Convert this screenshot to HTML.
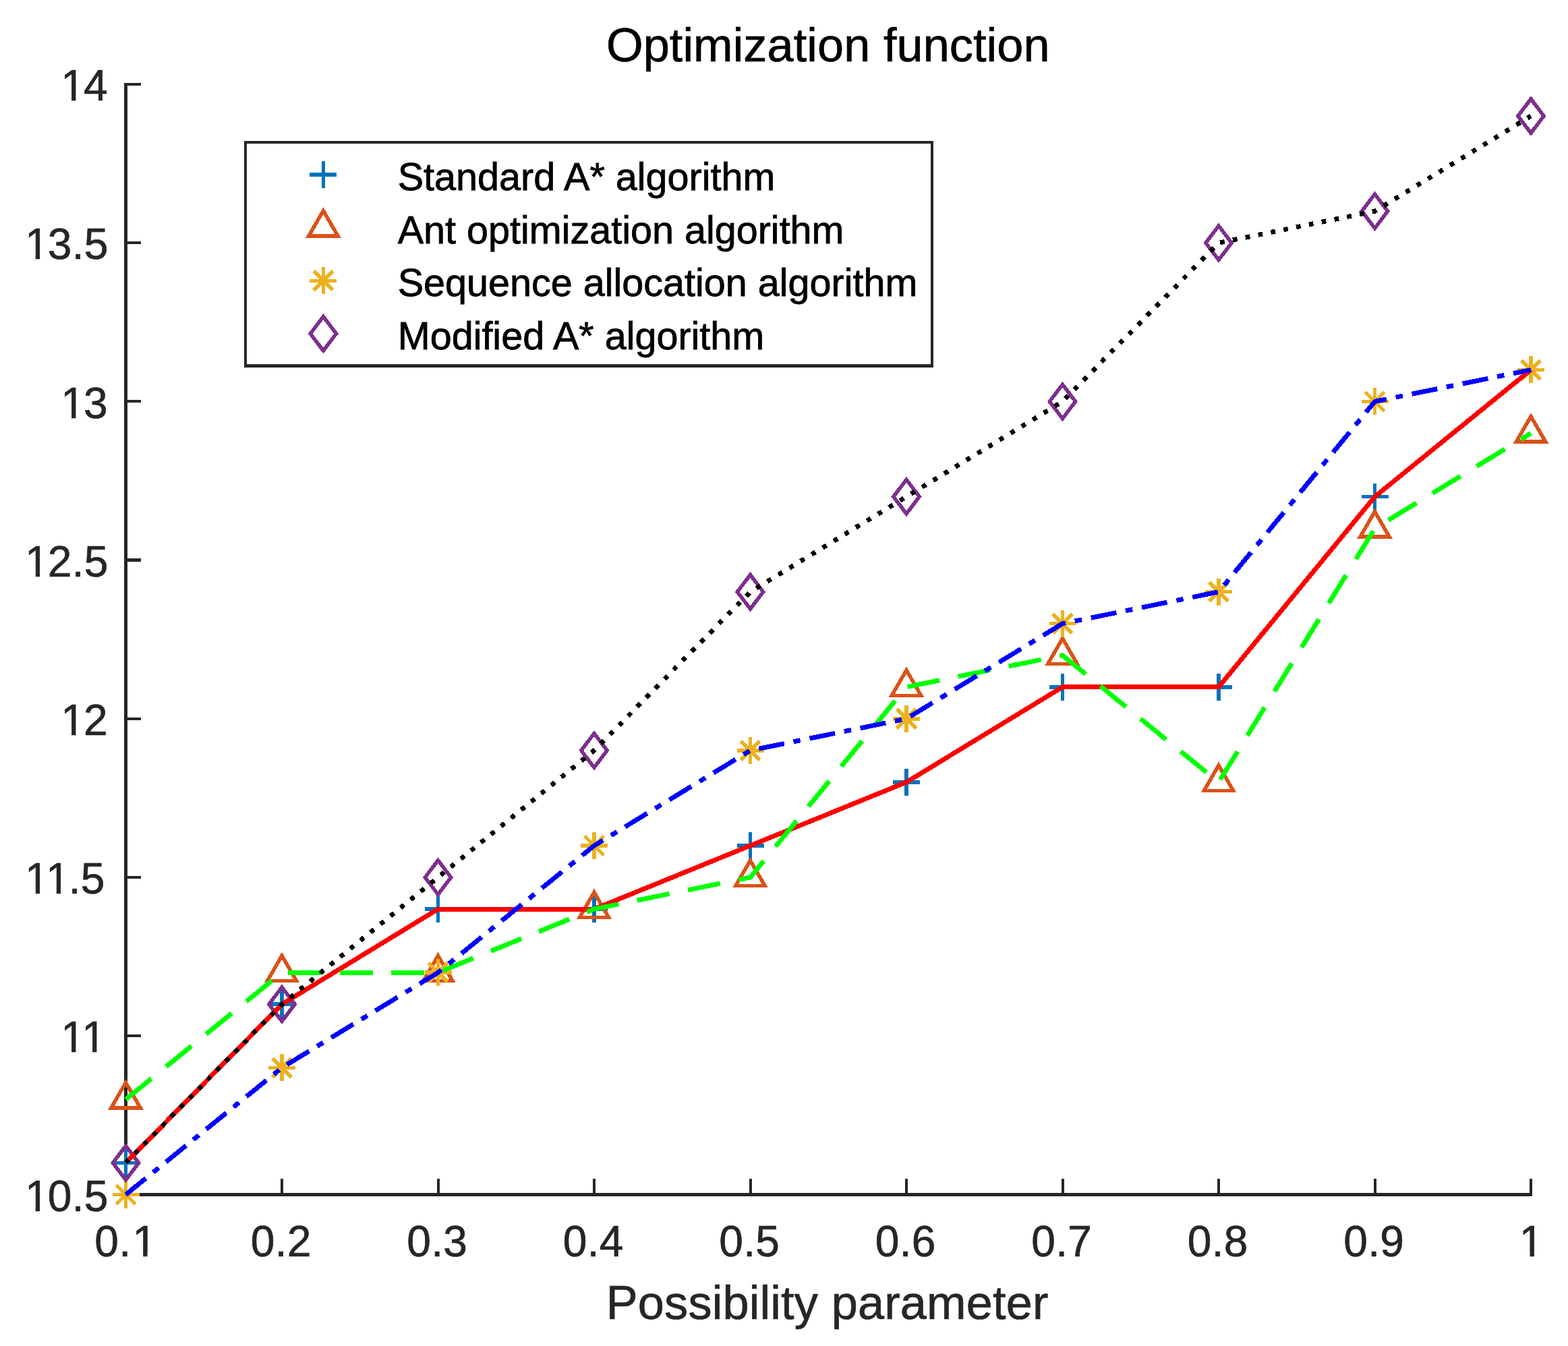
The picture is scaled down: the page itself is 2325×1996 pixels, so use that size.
<!DOCTYPE html>
<html lang="en">
<head>
<meta charset="utf-8">
<title>Optimization function</title>
<style>
html,body{margin:0;padding:0;background:#fff;}
body{width:2325px;height:1996px;overflow:hidden;}
svg{display:block;}
text{font-family:"Liberation Sans",Arial,Helvetica,sans-serif;}
.tk{font-size:64.1px;fill:#262626;stroke:#262626;stroke-width:0.7px;}
.tt{font-size:70.3px;fill:#000;stroke:#000;stroke-width:0.7px;letter-spacing:0.06px;}
.xl{font-size:70.3px;fill:#262626;stroke:#262626;stroke-width:0.7px;letter-spacing:0.155px;}
.lg{font-size:57.6px;fill:#000;stroke:#000;stroke-width:0.8px;letter-spacing:-0.03px;}
</style>
</head>
<body>

<svg width="2325" height="1996" viewBox="0 0 2325 1996">
<rect width="2325" height="1996" fill="#fff"/>
<g id="axes" shape-rendering="crispEdges" fill="#262626">
<rect x="184" y="123" width="5" height="1651"/>
<rect x="184" y="1769" width="2088" height="5"/>
<rect x="185" y="1748" width="4" height="24"/>
<rect x="416" y="1748" width="4" height="24"/>
<rect x="648" y="1748" width="4" height="24"/>
<rect x="879" y="1748" width="4" height="24"/>
<rect x="1111" y="1748" width="4" height="24"/>
<rect x="1342" y="1748" width="4" height="24"/>
<rect x="1574" y="1748" width="4" height="24"/>
<rect x="1805" y="1748" width="4" height="24"/>
<rect x="2037" y="1748" width="4" height="24"/>
<rect x="2268" y="1748" width="4" height="24"/>
<rect x="186" y="1770" width="23" height="4"/>
<rect x="186" y="1534" width="23" height="4"/>
<rect x="186" y="1299" width="23" height="4"/>
<rect x="186" y="1064" width="23" height="4"/>
<rect x="186" y="828" width="23" height="5"/>
<rect x="186" y="593" width="23" height="4"/>
<rect x="186" y="358" width="23" height="4"/>
<rect x="186" y="123" width="23" height="4"/>
</g>
<defs><clipPath id="nofeet"><path clip-rule="evenodd" d="M0 0H2325 V1996 H0ZM199 1857h13.17v8.0h-13.17zM218.53 1857h12.47v8.0h-12.47zM2256 1857h12.57v8.0h-12.57zM2274.93 1857h12.07v8.0h-12.07zM40 1790h12.77v8h-12.77zM59.13 1790h11.87v8h-11.87zM93 1554h13.07v8h-13.07zM112.43 1554h12.57v8h-12.57zM124 1554h13.07v8h-13.07zM143.43 1554h12.57v8h-12.57zM40 1319h12.77v8h-12.77zM59.13 1319h11.87v8h-11.87zM71 1319h12.77v8h-12.77zM90.13 1319h11.87v8h-11.87zM93 1084h13.07v8h-13.07zM112.43 1084h12.57v8h-12.57zM40 849h12.77v8h-12.77zM59.13 849h11.87v8h-11.87zM93 614h13.07v8h-13.07zM112.43 614h12.57v8h-12.57zM40 378h12.77v8h-12.77zM59.13 378h11.87v8h-11.87zM93 143h13.07v8h-13.07zM112.43 143h12.57v8h-12.57z"/></clipPath></defs>
<g id="xticks" class="tk" clip-path="url(#nofeet)">
<text x="140.2 176.2 196.4" y="1863.0">0.1</text>
<text x="371.7 407.7 425.7" y="1863.0">0.2</text>
<text x="603.2 639.2 657.2" y="1863.0">0.3</text>
<text x="834.7 870.7 888.7" y="1863.0">0.4</text>
<text x="1066.2 1102.2 1120.2" y="1863.0">0.5</text>
<text x="1297.7 1333.7 1351.7" y="1863.0">0.6</text>
<text x="1529.2 1565.2 1583.2" y="1863.0">0.7</text>
<text x="1760.7 1796.7 1814.7" y="1863.0">0.8</text>
<text x="1992.2 2028.2 2046.2" y="1863.0">0.9</text>
<text x="2252.8" y="1863.0">1</text>
</g>
<g id="yticks" class="tk" clip-path="url(#nofeet)">
<text x="37 70.8 106.8 124.8" y="1796">10.5</text>
<text x="90.3 121.3" y="1560">11</text>
<text x="37 68 101.8 119.8" y="1325">11.5</text>
<text x="90.3 124.1" y="1090">12</text>
<text x="37 70.8 106.8 124.8" y="855">12.5</text>
<text x="90.3 124.1" y="620">13</text>
<text x="37 70.8 106.8 124.8" y="384">13.5</text>
<text x="90.3 124.1" y="149">14</text>
</g>
<text class="tt" text-anchor="middle" x="1227.75" y="91.0">Optimization function</text>
<text class="xl" text-anchor="middle" x="1226.65" y="1955.8">Possibility parameter</text>
<g id="markers" shape-rendering="crispEdges">
<path d="M166.5 1724.46H206.5M186.5 1704.46V1744.46" stroke="#0072BD" stroke-width="5.5" fill="none"/>
<path d="M398 1489.24H438M418 1469.24V1509.24" stroke="#0072BD" stroke-width="5.5" fill="none"/>
<path d="M629.5 1348.11H669.5M649.5 1328.11V1368.11" stroke="#0072BD" stroke-width="5.5" fill="none"/>
<path d="M861 1348.11H901M881 1328.11V1368.11" stroke="#0072BD" stroke-width="5.5" fill="none"/>
<path d="M1092.5 1254.03H1132.5M1112.5 1234.03V1274.03" stroke="#0072BD" stroke-width="5.5" fill="none"/>
<path d="M1324 1159.94H1364M1344 1139.94V1179.94" stroke="#0072BD" stroke-width="5.5" fill="none"/>
<path d="M1555.5 1018.81H1595.5M1575.5 998.81V1038.81" stroke="#0072BD" stroke-width="5.5" fill="none"/>
<path d="M1787 1018.81H1827M1807 998.81V1038.81" stroke="#0072BD" stroke-width="5.5" fill="none"/>
<path d="M2018.5 736.56H2058.5M2038.5 716.56V756.56" stroke="#0072BD" stroke-width="5.5" fill="none"/>
<path d="M2250 548.39H2290M2270 528.39V568.39" stroke="#0072BD" stroke-width="5.5" fill="none"/>
<path d="M186.5 1605.37L208.15 1642.87H164.85Z" stroke="#D95319" stroke-width="5.5" fill="none" stroke-linejoin="miter"/>
<path d="M418 1417.2L439.65 1454.7H396.35Z" stroke="#D95319" stroke-width="5.5" fill="none" stroke-linejoin="miter"/>
<path d="M649.5 1417.2L671.15 1454.7H627.85Z" stroke="#D95319" stroke-width="5.5" fill="none" stroke-linejoin="miter"/>
<path d="M881 1323.11L902.65 1360.61H859.35Z" stroke="#D95319" stroke-width="5.5" fill="none" stroke-linejoin="miter"/>
<path d="M1112.5 1276.07L1134.15 1313.57H1090.85Z" stroke="#D95319" stroke-width="5.5" fill="none" stroke-linejoin="miter"/>
<path d="M1344 993.81L1365.65 1031.31H1322.35Z" stroke="#D95319" stroke-width="5.5" fill="none" stroke-linejoin="miter"/>
<path d="M1575.5 946.77L1597.15 984.27H1553.85Z" stroke="#D95319" stroke-width="5.5" fill="none" stroke-linejoin="miter"/>
<path d="M1807 1134.94L1828.65 1172.44H1785.35Z" stroke="#D95319" stroke-width="5.5" fill="none" stroke-linejoin="miter"/>
<path d="M2038.5 758.6L2060.15 796.1H2016.85Z" stroke="#D95319" stroke-width="5.5" fill="none" stroke-linejoin="miter"/>
<path d="M2270 617.47L2291.65 654.97H2248.35Z" stroke="#D95319" stroke-width="5.5" fill="none" stroke-linejoin="miter"/>
<path d="M166.5 1771.5H206.5M186.5 1751.5V1791.5M172.36 1757.36L200.64 1785.64M172.36 1785.64L200.64 1757.36" stroke="#EDB120" stroke-width="5.5" fill="none"/>
<path d="M398 1583.33H438M418 1563.33V1603.33M403.86 1569.19L432.14 1597.47M403.86 1597.47L432.14 1569.19" stroke="#EDB120" stroke-width="5.5" fill="none"/>
<path d="M629.5 1442.2H669.5M649.5 1422.2V1462.2M635.36 1428.06L663.64 1456.34M635.36 1456.34L663.64 1428.06" stroke="#EDB120" stroke-width="5.5" fill="none"/>
<path d="M861 1254.03H901M881 1234.03V1274.03M866.86 1239.89L895.14 1268.17M866.86 1268.17L895.14 1239.89" stroke="#EDB120" stroke-width="5.5" fill="none"/>
<path d="M1092.5 1112.9H1132.5M1112.5 1092.9V1132.9M1098.36 1098.76L1126.64 1127.04M1098.36 1127.04L1126.64 1098.76" stroke="#EDB120" stroke-width="5.5" fill="none"/>
<path d="M1324 1065.86H1364M1344 1045.86V1085.86M1329.86 1051.72L1358.14 1080M1329.86 1080L1358.14 1051.72" stroke="#EDB120" stroke-width="5.5" fill="none"/>
<path d="M1555.5 924.73H1595.5M1575.5 904.73V944.73M1561.36 910.59L1589.64 938.87M1561.36 938.87L1589.64 910.59" stroke="#EDB120" stroke-width="5.5" fill="none"/>
<path d="M1787 877.69H1827M1807 857.69V897.69M1792.86 863.54L1821.14 891.83M1792.86 891.83L1821.14 863.54" stroke="#EDB120" stroke-width="5.5" fill="none"/>
<path d="M2018.5 595.43H2058.5M2038.5 575.43V615.43M2024.36 581.29L2052.64 609.57M2024.36 609.57L2052.64 581.29" stroke="#EDB120" stroke-width="5.5" fill="none"/>
<path d="M2250 548.39H2290M2270 528.39V568.39M2255.86 534.24L2284.14 562.53M2255.86 562.53L2284.14 534.24" stroke="#EDB120" stroke-width="5.5" fill="none"/>
<path d="M186.5 1699.16L205.7 1724.46L186.5 1749.76L167.3 1724.46Z" stroke="#7E2F8E" stroke-width="5.5" fill="none" stroke-linejoin="miter"/>
<path d="M418 1463.94L437.2 1489.24L418 1514.54L398.8 1489.24Z" stroke="#7E2F8E" stroke-width="5.5" fill="none" stroke-linejoin="miter"/>
<path d="M649.5 1275.77L668.7 1301.07L649.5 1326.37L630.3 1301.07Z" stroke="#7E2F8E" stroke-width="5.5" fill="none" stroke-linejoin="miter"/>
<path d="M881 1087.6L900.2 1112.9L881 1138.2L861.8 1112.9Z" stroke="#7E2F8E" stroke-width="5.5" fill="none" stroke-linejoin="miter"/>
<path d="M1112.5 852.39L1131.7 877.69L1112.5 902.99L1093.3 877.69Z" stroke="#7E2F8E" stroke-width="5.5" fill="none" stroke-linejoin="miter"/>
<path d="M1344 711.26L1363.2 736.56L1344 761.86L1324.8 736.56Z" stroke="#7E2F8E" stroke-width="5.5" fill="none" stroke-linejoin="miter"/>
<path d="M1575.5 570.13L1594.7 595.43L1575.5 620.73L1556.3 595.43Z" stroke="#7E2F8E" stroke-width="5.5" fill="none" stroke-linejoin="miter"/>
<path d="M1807 334.91L1826.2 360.21L1807 385.51L1787.8 360.21Z" stroke="#7E2F8E" stroke-width="5.5" fill="none" stroke-linejoin="miter"/>
<path d="M2038.5 287.87L2057.7 313.17L2038.5 338.47L2019.3 313.17Z" stroke="#7E2F8E" stroke-width="5.5" fill="none" stroke-linejoin="miter"/>
<path d="M2270 146.74L2289.2 172.04L2270 197.34L2250.8 172.04Z" stroke="#7E2F8E" stroke-width="5.5" fill="none" stroke-linejoin="miter"/>
</g>
<g id="lines" shape-rendering="crispEdges">
<polyline points="186.5,1724.46 418,1489.24 649.5,1348.11 881,1348.11 1112.5,1254.03 1344,1159.94 1575.5,1018.81 1807,1018.81 2038.5,736.56 2270,548.39" stroke="#FF0000" stroke-width="7.0" fill="none" stroke-linejoin="round"/>
<polyline points="186.5,1630.37 418,1442.2 649.5,1442.2 881,1348.11 1112.5,1301.07 1344,1018.81 1575.5,971.77 1807,1159.94 2038.5,783.6 2270,642.47" stroke="#00FF00" stroke-width="7.0" fill="none" stroke-linejoin="round" stroke-dasharray="48.87 27.93"/>
<polyline points="186.5,1771.5 418,1583.33 649.5,1442.2 881,1254.03 1112.5,1112.9 1344,1065.86 1575.5,924.73 1807,877.69 2038.5,595.43 2270,548.39" stroke="#0000FF" stroke-width="7.0" fill="none" stroke-linejoin="round" stroke-dasharray="38.4 13.96 10.47 13.96"/>
<polyline points="186.5,1724.46 418,1489.24 649.5,1301.07 881,1112.9 1112.5,877.69 1344,736.56 1575.5,595.43 1807,360.21 2038.5,313.17 2270,172.04" stroke="#000000" stroke-width="7.0" fill="none" stroke-linejoin="round" stroke-dasharray="6.72 12.48"/>
</g>
<g id="legend">
<rect x="362" y="209" width="1022" height="336" fill="#262626" shape-rendering="crispEdges"/>
<rect x="366" y="213" width="1014" height="327" fill="#fff" shape-rendering="crispEdges"/>
<g shape-rendering="crispEdges">
<path d="M459.4 258.9H499.4M479.4 238.9V278.9" stroke="#0072BD" stroke-width="5.5" fill="none"/>
<path d="M479.4 312.5L501.05 350H457.75Z" stroke="#D95319" stroke-width="5.5" fill="none" stroke-linejoin="miter"/>
<path d="M459.4 416.3H499.4M479.4 396.3V436.3M465.26 402.16L493.54 430.44M465.26 430.44L493.54 402.16" stroke="#EDB120" stroke-width="5.5" fill="none"/>
<path d="M479.4 469.5L498.6 494.8L479.4 520.1L460.2 494.8Z" stroke="#7E2F8E" stroke-width="5.5" fill="none" stroke-linejoin="miter"/>
</g>
<text class="lg" x="589.7" y="282">Standard A* algorithm</text>
<text class="lg" x="589.7" y="361">Ant optimization algorithm</text>
<text class="lg" x="589.7" y="439">Sequence allocation algorithm</text>
<text class="lg" x="589.7" y="518">Modified A* algorithm</text>
</g>
</svg>
</body>
</html>
